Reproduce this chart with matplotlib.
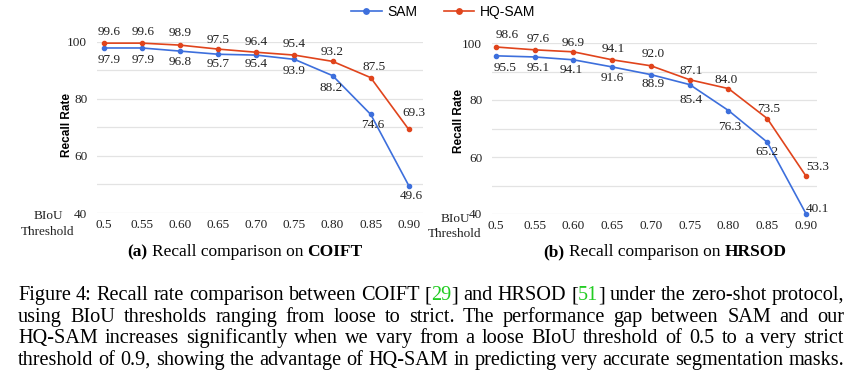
import matplotlib.pyplot as plt

# values
thresholds = ['0.5', '0.55', '0.60', '0.65', '0.70', '0.75', '0.80', '0.85', '0.90']
coift_sam = [97.9, 97.9, 96.8, 95.7, 95.4, 93.9, 88.2, 74.6, 49.6]
coift_hq = [99.6, 99.6, 98.9, 97.5, 96.4, 95.4, 93.2, 87.5, 69.3]
hrsod_sam = [95.5, 95.1, 94.1, 91.6, 88.9, 85.4, 76.3, 65.2, 40.1]
hrsod_hq = [98.6, 97.6, 96.9, 94.1, 92.0, 87.1, 84.0, 73.5, 53.3]
yticks = [40, 60, 80, 100]

caption = [
    "Figure 4: Recall rate comparison between COIFT [29] and HRSOD [51] under the zero-shot protocol,",
    "using BIoU thresholds ranging from loose to strict. The performance gap between SAM and our",
    "HQ-SAM increases significantly when we vary from a loose BIoU threshold of 0.5 to a very strict",
    "threshold of 0.9, showing the advantage of HQ-SAM in predicting very accurate segmentation masks.",
]

BLUE = '#3d6fdc'
RED = '#e0441c'
GREEN = '#22cc22'
SERIF = 'Liberation Serif'
SANS = 'Liberation Sans'

W, H = 854, 380
fig = plt.figure(figsize=(W / 100, H / 100), dpi=100)
renderer = fig.canvas.get_renderer()


def px_axes(left, top, right, bottom):
    return fig.add_axes([left / W, 1 - bottom / H, (right - left) / W, (bottom - top) / H])


def text_width(s, **kw):
    t = fig.text(0, 0, s, **kw)
    w = t.get_window_extent(renderer).width
    t.remove()
    return w


def draw_chart(ax, sam, hq, xlim, off_sam, off_hq, ypad):
    x = range(len(thresholds))
    for v in range(40, 101, 10):
        ax.axhline(v, color='#e3e3e3', lw=0.9, zorder=0)
    ax.plot(x, sam, color=BLUE, lw=1.2, marker='o', ms=3, clip_on=False, label='SAM')
    ax.plot(x, hq, color=RED, lw=1.2, marker='o', ms=3, clip_on=False, label='HQ-SAM')
    for i in x:
        ax.annotate(f'{sam[i]:.1f}', (i, sam[i]), xytext=off_sam[i], textcoords='offset pixels',
                    ha='center', va='center', fontsize=9.5, family=SERIF, color='#222222')
        ax.annotate(f'{hq[i]:.1f}', (i, hq[i]), xytext=off_hq[i], textcoords='offset pixels',
                    ha='center', va='center', fontsize=9.5, family=SERIF, color='#222222')
    ax.set_xlim(*xlim)
    ax.set_ylim(40, 100)
    ax.set_xticks(list(x))
    ax.set_xticklabels(thresholds, family=SERIF, fontsize=9.5)
    ax.set_yticks(yticks)
    ax.set_yticklabels([str(v) for v in yticks], family=SERIF, fontsize=9.5)
    ax.tick_params(axis='x', length=0, pad=4, colors='#222222')
    ax.tick_params(axis='y', length=0, pad=ypad, colors='#222222')
    for s in ax.spines.values():
        s.set_visible(False)


# label offsets in pixels (dx, dy), screen y upwards
off_c_sam = [(5, -12), (1, -12), (0, -11), (0, -10), (0, -9), (0, -12), (-1, -12), (2, -11), (3, -10)]
off_c_hq = [(5, 11), (1, 11), (0, 12), (0, 9), (0, 10), (0, 11), (0, 9), (3, 11), (5, 16)]
off_h_sam = [(9, -12), (3, -11), (-2, -10), (0, -11), (2, -9), (1, -15), (1, -16), (0, -10), (11, 5)]
off_h_hq = [(11, 12), (3, 11), (0, 9), (1, 11), (2, 12), (1, 9), (-2, 9), (1, 10), (12, 9)]

ax1 = px_axes(97, 42, 423, 213)
draw_chart(ax1, coift_sam, coift_hq, (-0.184, 8.373), off_c_sam, off_c_hq, 7)
ax2 = px_axes(492, 43, 817, 214)
draw_chart(ax2, hrsod_sam, hrsod_hq, (-0.103, 8.284), off_h_sam, off_h_hq, 7)

# axis titles placed by pixel
for xp, yp in [(67, 125), (459, 121)]:
    fig.text(xp / W, 1 - yp / H, 'Recall Rate', rotation=90, ha='center', va='center',
             fontsize=8.5, weight='bold', family=SANS)
for xp, yb, yt in [(48, 216, 232), (455, 219, 234)]:
    fig.text(xp / W, 1 - yb / H, 'BIoU', ha='center', va='center',
             fontsize=9.5, family=SERIF, color='#222222')
    fig.text(xp / W, 1 - yt / H, 'Threshold', ha='center', va='center',
             fontsize=9.5, family=SERIF, color='#222222')

# legend at the top
h, l = ax1.get_legend_handles_labels()
fig.legend(h, l, loc='center', bbox_to_anchor=(443 / W, 1 - 12 / H), ncol=2, frameon=False,
           prop={'family': SANS, 'size': 10}, handlelength=2.2, handletextpad=0.4,
           columnspacing=1.9, markerscale=1.3)


def draw_segments(segs, x0, y, size):
    # segs: list of (text, weight, color); placed left to right from x0 (pixels)
    x = x0
    for s, wt, c in segs:
        fig.text(x / W, 1 - y / H, s, fontsize=size, family=SERIF, weight=wt, color=c,
                 ha='left', va='baseline')
        x += text_width(s, fontsize=size, family=SERIF, weight=wt)


def subcaption(tag, name, xc, y):
    size = 12.5
    sp = text_width('x x', fontsize=size, family=SERIF) - text_width('xx', fontsize=size, family=SERIF)
    segs = [(tag, 'bold', 'k'), (' ', 'normal', 'k'), ('Recall comparison on', 'normal', 'k'),
            (' ', 'normal', 'k'), (name, 'bold', 'k')]
    total = sum(text_width(s, fontsize=size, family=SERIF, weight=wt) if s != ' ' else sp
                for s, wt, c in segs)
    x = xc - total / 2
    for s, wt, c in segs:
        if s == ' ':
            x += sp
            continue
        fig.text(x / W, 1 - y / H, s, fontsize=size, family=SERIF, weight=wt, color=c,
                 ha='left', va='baseline')
        x += text_width(s, fontsize=size, family=SERIF, weight=wt)


subcaption('(a)', 'COIFT', 245, 256)
subcaption('(b)', 'HRSOD', 665, 256)


def word_segments(w):
    if w.startswith('[') and w.rstrip(',.').endswith(']'):
        inner = w[1:w.index(']')]
        tail = w[w.index(']'):]
        return [('[', 'normal', 'k'), (inner, 'normal', GREEN), (tail, 'normal', 'k')]
    return [(w, 'normal', 'k')]


# justified caption
cap_size = 14.6
left, right = 18, 844
for line, base in zip(caption, [300, 322, 343, 365]):
    words = line.split(' ')
    segs = [word_segments(w) for w in words]
    widths = [sum(text_width(s, fontsize=cap_size, family=SERIF) for s, _, _ in sg) for sg in segs]
    gap = (right - left - sum(widths)) / (len(words) - 1)
    x = left
    for sg, wd in zip(segs, widths):
        draw_segments(sg, x, base, cap_size)
        x += wd + gap

fig.savefig('out.png', dpi=100)
